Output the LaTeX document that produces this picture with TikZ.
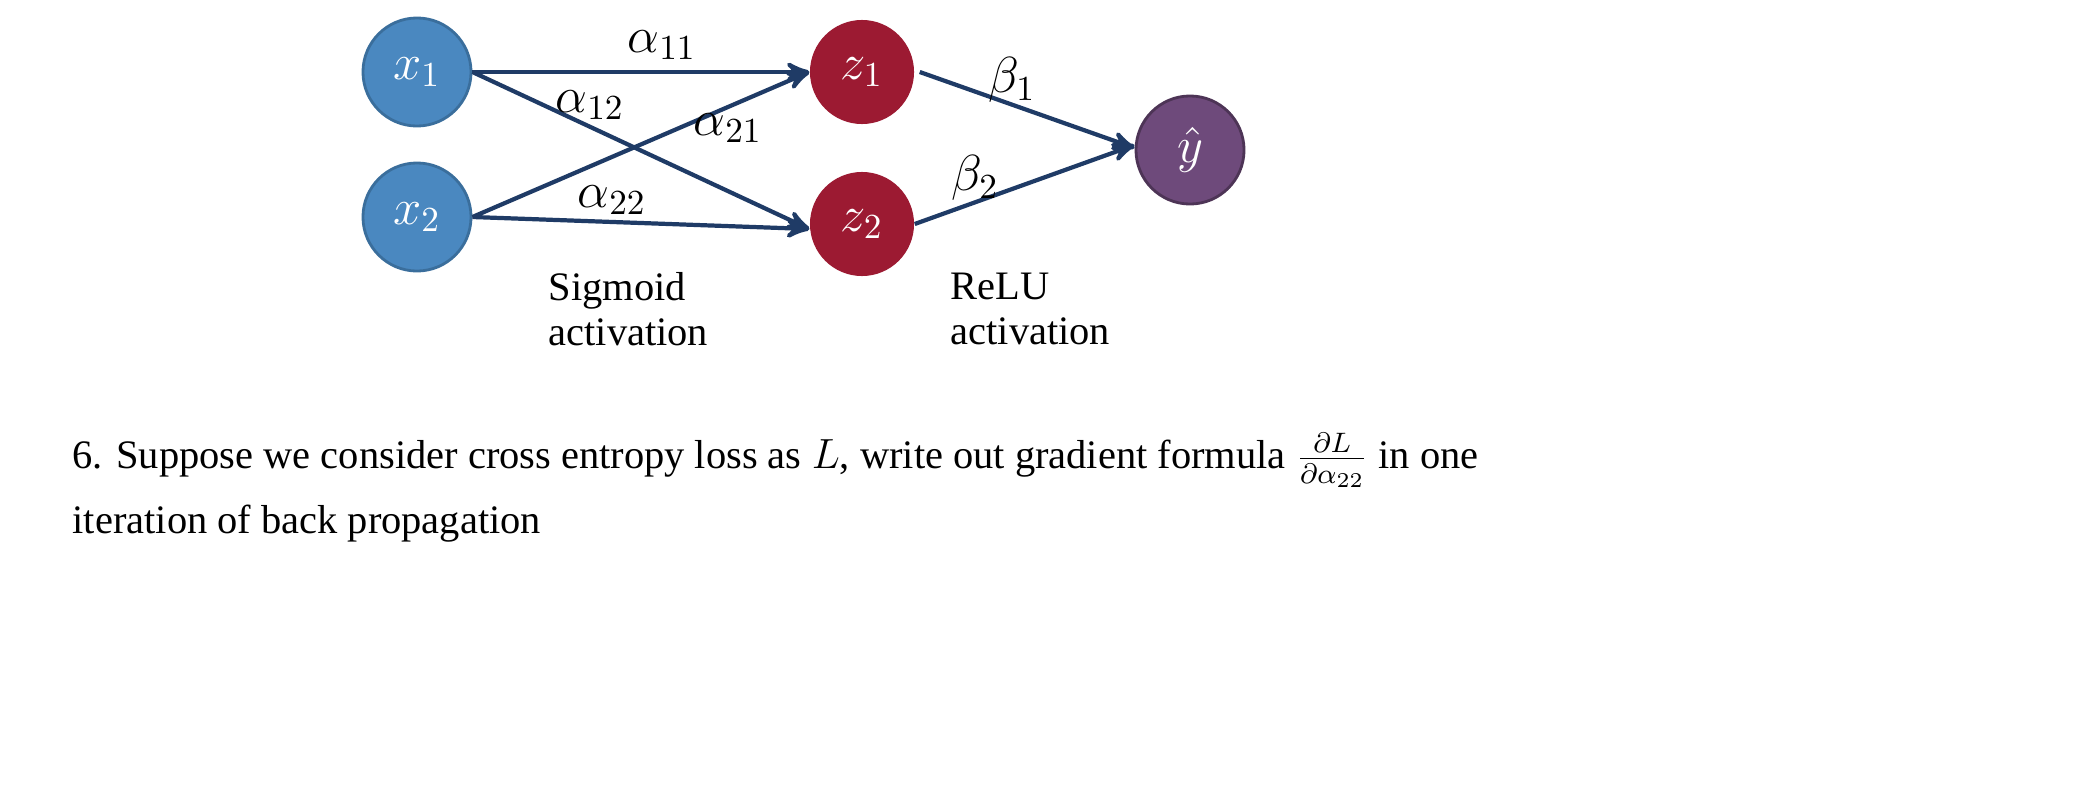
\documentclass[tikz,border=0pt]{standalone}
\usepackage{fontspec}
\setmainfont{Liberation Serif}
\usepackage{tikz}
\usetikzlibrary{arrows}
\definecolor{inblue}{HTML}{4A88C0}
\definecolor{inedge}{HTML}{3A6E9C}
\definecolor{hidred}{HTML}{9C1A32}
\definecolor{outpurple}{HTML}{6E4A7B}
\definecolor{arrowc}{HTML}{1F3B66}

\begin{document}
\begin{tikzpicture}[x=0.01cm,y=-0.01cm,
                    >=stealth',
                    neuron/.style={circle,minimum size=1.08cm,inner sep=0pt,
                                   text=white,font=\Large},
                    link/.style={->,draw=arrowc,line width=1.2pt},
                    wt/.style={font=\Large},
                    txt/.style={align=left,anchor=north west,inner sep=0pt,
                                font=\fontsize{11.5}{12.8}\selectfont}]

\useasboundingbox (0,0) rectangle (2088,806);

\draw node[neuron,fill=inblue,draw=inedge,thick] (X1) at (417,72) {$x_1$}
      node[neuron,fill=inblue,draw=inedge,thick] (X2) at (417,217) {$x_2$}
      node[neuron,fill=hidred,minimum size=1.04cm] (Z1) at (862,72) {$z_1$}
      node[neuron,fill=hidred,minimum size=1.04cm] (Z2) at (862,224) {$z_2$}
      node[neuron,fill=outpurple,draw=outpurple!70!black,thick] (Y) at (1190,150) {$\hat{y}$};

\draw[link] (X1.east) -- (Z1.west);
\draw[link] (X1.east) -- ([yshift=-0.05cm]Z2.west);
\draw[link] (X2.east) -- (Z1.west);
\draw[link] (X2.east) -- ([yshift=-0.05cm]Z2.west);
\draw[link] ([xshift=0.05cm]Z1.east) -- ([yshift=0.02cm]Y.west);
\draw[link] (Z2.east) -- ([yshift=0.05cm]Y.west);

\node[wt] (A11) at (662,45) {$\alpha_{11}$};
\node[wt] (A12) at (590,105) {$\alpha_{12}$};
\node[wt] (A21) at (728,128) {$\alpha_{21}$};
\node[wt] (A22) at (612,200) {$\alpha_{22}$};
\node[wt] (B1) at (1012,80) {$\beta_1$};
\node[wt] (B2) at (975,178) {$\beta_2$};

\node[txt] (SIG) at (548,272) {Sigmoid\\activation};
\node[txt] (RELU) at (950,272) {ReLU\\activation};

\node[txt,font=\fontsize{11.5}{18.5}\selectfont] (Q) at (72,432)
  {6. Suppose we consider cross entropy loss as $L$, write out gradient formula $\frac{\partial L}{\partial \alpha_{22}}$ in one\\
   iteration of back propagation};

\end{tikzpicture}
\end{document}
